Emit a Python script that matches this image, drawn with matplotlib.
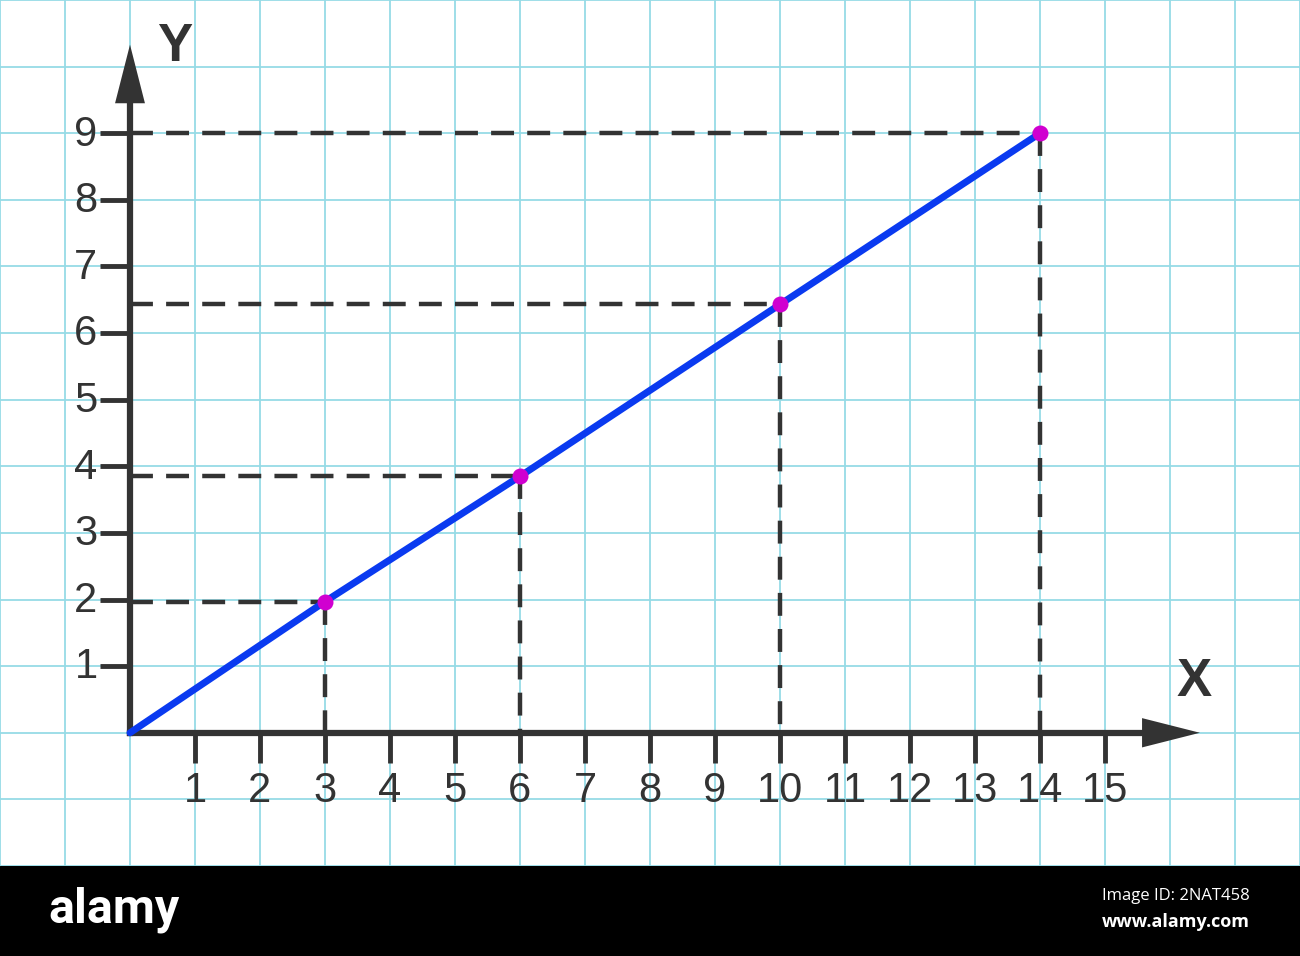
import matplotlib
matplotlib.use("Agg")
import matplotlib.pyplot as plt
from matplotlib.patches import Polygon

# ---- data ----
x_points = [3, 6, 10, 14]
y_points = [1.97, 3.85, 6.43, 9.0]
x_ticks = list(range(1, 16))
y_ticks = list(range(1, 10))
x_label = "X"
y_label = "Y"

plt.rcParams['font.family'] = ['Liberation Sans', 'DejaVu Sans']
plt.rcParams['lines.scale_dashes'] = False

W, H = 1300, 956
band = 90
fig = plt.figure(figsize=(W / 100, H / 100), dpi=100)
fig.patch.set_facecolor('white')

ax = fig.add_axes([0, band / H, 1, (H - band) / H])
ax.set_xlim(-2, 18)
ax.set_ylim(-2, 11)
ax.axis('off')

grid_c = '#96dbe6'
for gx in range(-2, 19):
    ax.axvline(gx, color=grid_c, lw=1.3, zorder=0)
for gy in range(-2, 12):
    ax.axhline(gy, color=grid_c, lw=1.3, zorder=0)

axc = '#333333'
dash = (0, (16.5, 9.5))
# dashed guide lines
for px, py in zip(x_points, y_points):
    ax.plot([0, px], [py, py], color=axc, lw=3.2, linestyle=dash, zorder=2,
            dash_capstyle='butt')
    ax.plot([px, px], [py, 0], color=axc, lw=3.2, linestyle=dash, zorder=2,
            dash_capstyle='butt')

# axes lines
ax.plot([0, 0], [0, 9.5], color=axc, lw=4.5, zorder=3, solid_capstyle='projecting')
ax.plot([0, 15.6], [0, 0], color=axc, lw=4.5, zorder=3, solid_capstyle='projecting')
# arrow heads
ax.add_patch(Polygon([[-0.23, 9.45], [0.23, 9.45], [0, 10.33]], closed=True,
                     color=axc, zorder=3, lw=0))
ax.add_patch(Polygon([[15.57, 0.22], [15.57, -0.22], [16.46, 0]], closed=True,
                     color=axc, zorder=3, lw=0))

# ticks
for t in x_ticks:
    ax.plot([t, t], [0, -0.45], color=axc, lw=3.5, zorder=3, solid_capstyle='butt')
    ax.text(t, -0.58, str(t), ha='center', va='top', fontsize=30, color=axc)
for t in y_ticks:
    ax.plot([0, -0.46], [t, t], color=axc, lw=3.5, zorder=3, solid_capstyle='butt')
    ax.text(-0.5, t - 0.02, str(t), ha='right', va='center', fontsize=30, color=axc)

ax.text(0.42, 10.3, y_label, ha='left', va='center', fontsize=38,
        fontweight='bold', color=axc)
ax.text(16.1, 0.76, x_label, ha='left', va='center', fontsize=38,
        fontweight='bold', color=axc)

# data line and points
ax.plot([0] + x_points, [0] + y_points, color='#0a3af0', lw=5.0, zorder=4,
        solid_capstyle='round')
ax.plot(x_points, y_points, 'o', color='#d000d0', markersize=11.5,
        markeredgewidth=0, zorder=5)

# bottom band
bax = fig.add_axes([0, 0, 1, band / H])
bax.set_xlim(0, W)
bax.set_ylim(band, 0)
bax.axis('off')
bax.add_patch(plt.Rectangle((0, 0), W, band, color='black'))
bax.text(48, 44, 'alamy', ha='left', va='center', fontsize=35, color='white',
         fontweight='bold', family=['Roboto', 'DejaVu Sans'],
         fontstretch='condensed')
bax.text(1250, 30, 'Image ID: 2NAT458', ha='right', va='center', fontsize=12,
         color='white', family=['Open Sans', 'DejaVu Sans'])
bax.text(1250, 56, 'www.alamy.com', ha='right', va='center', fontsize=13,
         color='white', fontweight='bold', family=['Open Sans', 'DejaVu Sans'])

fig.savefig('out.png', dpi=100, facecolor='white')
